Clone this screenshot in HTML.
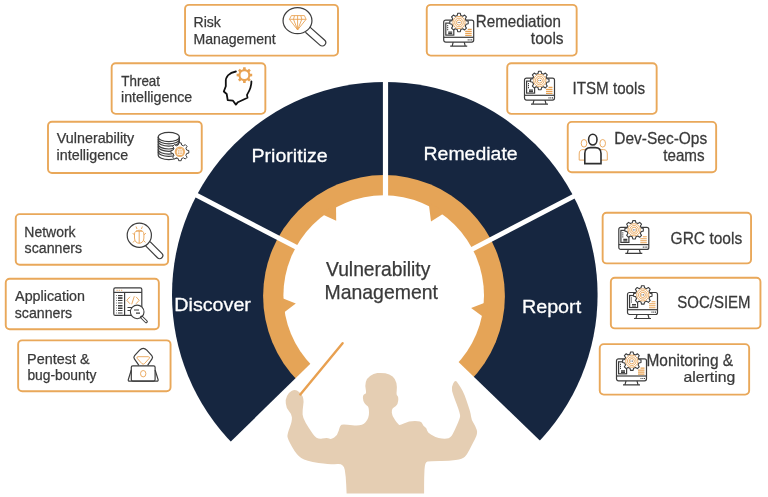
<!DOCTYPE html>
<html>
<head>
<meta charset="utf-8">
<title>Vulnerability Management</title>
<style>
html,body{margin:0;padding:0;background:#fff;}
body{width:768px;height:497px;overflow:hidden;}
svg{display:block;will-change:transform;}
text{font-family:"Liberation Sans",Arial,sans-serif;}
.bx{fill:#fff;stroke:#E9A85A;stroke-width:1.9;}
.lt{font-size:14.1px;fill:#3a3a3a;stroke:#3a3a3a;stroke-width:0.25px;}
.rt{font-size:15.2px;fill:#3a3a3a;stroke:#3a3a3a;stroke-width:0.25px;}
.seg{font-size:19.6px;fill:#fff;stroke:#fff;stroke-width:0.3px;}
.ctr{font-size:19.6px;fill:#3a3a3a;stroke:#3a3a3a;stroke-width:0.25px;}
.dk{stroke:#3d3d3d;fill:none;stroke-width:1.2;}
.og{stroke:#E9A353;fill:none;stroke-width:0.9;}
</style>
</head>
<body>
<svg width="768" height="497" viewBox="0 0 768 497">
<defs>
<g id="mon">
  <rect x="0.5" y="8.5" width="30" height="22" rx="2" class="dk" fill="#fff"/>
  <line x1="0.5" y1="25.7" x2="30.5" y2="25.7" class="dk"/>
  <rect x="2.6" y="11.5" width="8" height="12" class="dk" stroke-width="0.9"/>
  <path d="M4 14h1M4 16h1M4 18h1M5 20.5h4M5 22h4" class="dk" stroke-width="0.8"/>
  <path d="M10 30.5 L9 34.3 M21 30.5 L22 34.3 M7 34.5 H24" class="dk"/>
  <path d="M24.5 28.2h1M26.3 28.2h1M28 28.2h1" class="dk" stroke-width="0.9"/>
  <path d="M24.5 17.8h4M22 19.8h6.5M22 21.8h6.5M22 23.8h6.5" stroke="#E9A353" stroke-width="1.1"/>
  <path d="M14.04 3.82 L14.49 1.69 L17.11 1.69 L17.56 3.82 L19.57 4.65 L21.38 3.46 L23.24 5.32 L22.05 7.13 L22.88 9.14 L25.01 9.59 L25.01 12.21 L22.88 12.66 L22.05 14.67 L23.24 16.48 L21.38 18.34 L19.57 17.15 L17.56 17.98 L17.11 20.11 L14.49 20.11 L14.04 17.98 L12.03 17.15 L10.22 18.34 L8.36 16.48 L9.55 14.67 L8.72 12.66 L6.59 12.21 L6.59 9.59 L8.72 9.14 L9.55 7.13 L8.36 5.32 L10.22 3.46 L12.03 4.65 Z" fill="#fff" stroke="#3d3d3d" stroke-width="1.1" stroke-linejoin="round"/>
  <circle cx="15.8" cy="10.9" r="6.1" class="og" stroke-width="0.9"/>
  <circle cx="15.8" cy="10.9" r="4.3" class="og" stroke-width="1.1"/>
  <circle cx="15.8" cy="10.9" r="2.6" class="og" stroke-width="0.4"/>
  <path d="M14.6 10.9h0.7M16.3 10.9h0.7" class="dk" stroke-width="0.7"/>
</g>
</defs>
<rect width="768" height="497" fill="#fff"/>

<!-- rings -->
<circle cx="384.8" cy="294.7" r="212.8" fill="#162640"/>
<circle cx="384" cy="296" r="120.9" fill="#E5A457"/>
<circle cx="383.7" cy="295.6" r="100.3" fill="#fff"/>
<polygon points="385,291 85,583.8 685,580.8" fill="#fff"/>
<polygon points="336,204.5 336.2,220.8 320.4,213.6" fill="#E5A457"/>
<polygon points="428.6,202.5 431,221.6 445.6,212.2" fill="#E5A457"/>
<polygon points="280,297.3 281.3,314.4 295.8,303.4" fill="#E5A457"/>
<polygon points="488,301.6 471.1,308 485.4,318.6" fill="#E5A457"/>
<!-- dividers -->
<line x1="385.5" y1="200" x2="385.5" y2="70" stroke="#fff" stroke-width="5.2"/>
<line x1="300" y1="249.2" x2="170" y2="181.4" stroke="#fff" stroke-width="4.8"/>
<line x1="470" y1="250.4" x2="600" y2="182.6" stroke="#fff" stroke-width="4.8"/>

<!-- conductor -->
<path fill="#E5CEB3" d="M346.6 493.5 L346.2 484.8 Q345.9 476.1 344.8 469.9 Q343.6 463.6 337.6 464.1 Q331.6 464.6 318.7 463.0 Q305.8 461.3 301.2 458.1 Q296.6 455.0 292.0 446.8 Q287.3 438.6 287.4 436.1 Q287.5 433.5 289.9 427.1 Q292.2 420.8 291.9 417.2 Q291.5 413.7 288.9 410.9 Q286.2 408.2 285.8 403.6 Q285.3 399.1 287.0 395.9 Q288.6 392.6 291.5 391.0 Q294.3 389.4 296.9 390.5 Q299.4 391.6 301.8 395.0 Q304.2 398.4 303.3 404.6 Q302.4 410.8 302.6 414.4 Q302.9 418.0 305.8 423.0 Q308.7 428.0 312.9 433.9 Q317.0 439.8 322.1 438.6 Q327.3 437.3 329.1 438.5 Q330.9 439.6 334.2 437.5 Q337.6 435.3 338.8 430.5 Q340.0 425.6 341.5 424.8 Q343.0 424.0 352.4 425.2 Q361.9 426.5 365.5 422.2 Q369.2 418.0 369.0 412.5 Q368.9 407.0 367.5 406.1 Q366.2 405.3 364.6 403.2 Q363.0 401.2 362.9 397.8 Q362.9 394.4 364.8 394.0 Q366.7 393.6 365.8 389.7 Q364.9 385.8 365.8 382.1 Q366.6 378.4 370.1 376.0 Q373.6 373.6 377.3 373.1 Q381.0 372.6 385.3 373.3 Q389.6 374.0 392.6 376.5 Q395.6 379.0 396.4 383.0 Q397.2 387.0 396.7 390.9 Q396.2 394.8 397.4 395.7 Q398.6 396.6 398.2 400.7 Q397.8 404.8 395.9 406.0 Q394.0 407.2 392.8 408.3 Q391.6 409.4 391.8 412.7 Q392.0 416.0 395.2 420.3 Q398.4 424.6 399.3 424.9 Q400.2 425.2 404.4 423.2 Q408.7 421.2 414.9 421.1 Q421.2 421.1 422.2 423.4 Q423.2 425.7 425.0 427.1 Q426.8 428.5 427.1 430.4 Q427.5 432.2 430.9 434.4 Q434.4 436.7 438.7 437.9 Q443.0 439.0 446.8 438.6 Q450.6 438.2 452.6 434.2 Q454.7 430.2 457.2 424.4 Q459.8 418.7 460.1 416.5 Q460.5 414.4 456.8 404.5 Q453.0 394.6 452.1 390.9 Q451.1 387.2 453.2 383.4 Q455.3 379.6 457.0 381.9 Q458.6 384.2 460.7 387.4 Q462.8 390.6 464.6 395.3 Q466.4 400.0 468.5 406.5 Q470.7 413.0 471.0 416.2 Q471.3 419.4 473.5 422.9 Q475.7 426.3 476.8 430.0 Q477.9 433.6 475.0 439.1 Q472.1 444.6 469.6 449.6 Q467.1 454.6 464.9 456.8 Q462.6 459.0 455.7 460.0 Q448.8 461.0 439.5 460.9 Q430.1 460.9 427.5 461.4 Q424.8 462.0 424.5 469.6 Q424.1 477.3 424.1 485.4 L424.1 493.5 Z"/>
<line x1="342.6" y1="343.2" x2="300.3" y2="394.4" stroke="#E8A050" stroke-width="2.4" stroke-linecap="round"/>

<!-- segment labels -->
<text class="seg" transform="translate(251.5 162) scale(1 0.95)">Prioritize</text>
<text class="seg" transform="translate(423.5 160.2) scale(1 0.98)" style="font-size:19.47px">Remediate</text>
<text class="seg" transform="translate(174.3 311) scale(1 0.95)" style="font-size:19.7px">Discover</text>
<text class="seg" transform="translate(521.9 312.5) scale(1 0.96)" style="font-size:19.75px">Report</text>
<text class="ctr" transform="translate(326 276) scale(1 1.0)" style="font-size:19.3px">Vulnerability</text>
<text class="ctr" transform="translate(324.5 298.8) scale(1 1.0)" style="font-size:19.45px">Management</text>

<!-- boxes -->
<rect class="bx" x="185.05" y="4.85" width="152.95" height="50.75" rx="4"/>
<text class="lt" transform="translate(193.5 26.5) scale(1 1.0)" style="font-size:14.1px">Risk</text>
<text class="lt" transform="translate(193.5 43.6) scale(1 1.0)" style="font-size:14.1px">Management</text>
<rect class="bx" x="111.65" y="63.25" width="153.70" height="50.60" rx="4"/>
<text class="lt" transform="translate(121.3 85.9) scale(1 1.1)" style="font-size:13.4px">Threat</text>
<text class="lt" transform="translate(121 101.9) scale(1 1.0)" style="font-size:14.25px">intelligence</text>
<rect class="bx" x="48.0" y="121.7" width="153.75" height="51.30" rx="4"/>
<text class="lt" transform="translate(56.85 143.25) scale(1 1.0)" style="font-size:14.3px">Vulnerability</text>
<text class="lt" transform="translate(56.6 159.6) scale(1 1.0)" style="font-size:14.3px">intelligence</text>
<rect class="bx" x="15.75" y="214.15" width="152.40" height="50.65" rx="4"/>
<text class="lt" transform="translate(24.3 236.55) scale(1 1.05)" style="font-size:14.0px">Network</text>
<text class="lt" transform="translate(24.6 253.0) scale(1 1.05)" style="font-size:14.2px">scanners</text>
<rect class="bx" x="5.75" y="278.75" width="153.10" height="50.55" rx="4"/>
<text class="lt" transform="translate(15.1 300.5) scale(1 0.97)" style="font-size:14.3px">Application</text>
<text class="lt" transform="translate(14.8 318.0) scale(1 1.03)" style="font-size:14.15px">scanners</text>
<rect class="bx" x="18.15" y="340.35" width="152.40" height="50.85" rx="4"/>
<text class="lt" transform="translate(27.1 363.55) scale(1 1.0)" style="font-size:14.4px">Pentest &amp;</text>
<text class="lt" transform="translate(27.4 379.85) scale(1 1.0)" style="font-size:13.8px">bug-bounty</text>
<rect class="bx" x="426.75" y="4.85" width="149.90" height="50.75" rx="4"/>
<text class="rt" transform="translate(561 27) scale(1 1.12)" text-anchor="end" style="font-size:15.2px">Remediation</text>
<text class="rt" transform="translate(563.6 44.3) scale(1 1.1)" text-anchor="end" style="font-size:15.5px">tools</text>
<rect class="bx" x="507.25" y="63.25" width="149.40" height="50.60" rx="4"/>
<text class="rt" transform="translate(645 93.7) scale(1 1.12)" text-anchor="end" style="font-size:15.2px">ITSM tools</text>
<rect class="bx" x="567.75" y="121.9" width="148.40" height="50.30" rx="4"/>
<text class="rt" transform="translate(707.2 143.8) scale(1 1.12)" text-anchor="end" style="font-size:15.5px">Dev-Sec-Ops</text>
<text class="rt" transform="translate(704.6 160.9) scale(1 1.12)" text-anchor="end" style="font-size:15.2px">teams</text>
<rect class="bx" x="602.65" y="212.75" width="148.40" height="50.65" rx="4"/>
<text class="rt" transform="translate(742.2 243.95) scale(1 1.1)" text-anchor="end" style="font-size:15.55px">GRC tools</text>
<rect class="bx" x="610.85" y="277.75" width="149.60" height="50.65" rx="4"/>
<text class="rt" transform="translate(750.6 308.1) scale(1 1.05)" text-anchor="end" style="font-size:15.0px">SOC/SIEM</text>
<rect class="bx" x="599.75" y="344.15" width="149.40" height="50.45" rx="4"/>
<text class="rt" transform="translate(733.1 365.7) scale(1 1.06)" text-anchor="end" style="font-size:15.45px">Monitoring &amp;</text>
<text class="rt" transform="translate(735.3 382.1) scale(1 0.97)" text-anchor="end" style="font-size:15.8px">alerting</text>

<!-- monitor icons -->
<use href="#mon" x="443.2" y="11.6"/>
<use href="#mon" x="524" y="69.6"/>
<use href="#mon" x="618.3" y="218.9"/>
<use href="#mon" x="627" y="284"/>
<use href="#mon" x="616" y="350.3"/>

<!-- people icon -->
<g>
  <ellipse cx="584" cy="143.3" rx="2.8" ry="3.8" class="og" stroke-width="1.5"/>
  <ellipse cx="602.7" cy="143.3" rx="2.8" ry="3.8" class="og" stroke-width="1.5"/>
  <path d="M585 149.6 H583 Q579.2 149.6 579.2 154 V160.1 H585" class="og" stroke-width="1.5"/>
  <path d="M601 149.6 H603.4 Q607.3 149.6 607.3 154 V160.1 H601" class="og" stroke-width="1.5"/>
  <ellipse cx="592.8" cy="139.6" rx="4.2" ry="5.4" fill="none" stroke="#2e2e2e" stroke-width="1.6"/>
  <path d="M584.8 163.6 V153.4 Q584.8 147.6 590.5 147.6 H595.3 Q601 147.6 601 153.4 V163.6 Z" stroke="#2e2e2e" stroke-width="1.6" fill="#fff"/>
</g>

<!-- icon 1: magnifier + diamond -->
<g>
  <ellipse cx="297.5" cy="20.7" rx="14.45" ry="13.0" class="dk" stroke-width="1.3"/>
  <g transform="translate(297.5 20.7) rotate(41.5)">
    <path d="M13.6 -3.45 H33 A3.45 3.45 0 0 1 33 3.45 H13.6" class="dk" stroke-width="1.35"/>
  </g>
  <path d="M291.4 15.6 H304.4 L306.1 19.3 L297.6 29.9 L289.4 19.3 Z M289.4 19.3 H306.1 M294.5 15.6 L293.5 19.3 L297.6 29.9 L301.8 19.3 L300.8 15.6 M297.6 15.6 V29.9" class="og" stroke-width="0.55"/>
</g>

<!-- icon 2: head + gear -->
<g>
  <path d="M235.9 71.5 C229 72.5 225.3 77 225.8 82 L225.8 86.2 L223.8 91.5 L226.7 94 L227.7 100.2 L233 100.7 L235.9 104.6 L237.9 102.2 L247.5 97.8 L247 94.9 C250 90 251.6 86 251.4 81.4" fill="none" stroke="#111" stroke-width="1.8" stroke-linejoin="round" stroke-linecap="round"/>
  <path d="M243.00 69.27 L243.16 67.30 L245.64 67.30 L245.80 69.27 L247.53 69.98 L249.04 68.71 L250.79 70.46 L249.52 71.97 L250.23 73.70 L252.20 73.86 L252.20 76.34 L250.23 76.50 L249.52 78.23 L250.79 79.74 L249.04 81.49 L247.53 80.22 L245.80 80.93 L245.64 82.90 L243.16 82.90 L243.00 80.93 L241.27 80.22 L239.76 81.49 L238.01 79.74 L239.28 78.23 L238.57 76.50 L236.60 76.34 L236.60 73.86 L238.57 73.70 L239.28 71.97 L238.01 70.46 L239.76 68.71 L241.27 69.98 Z M248.3 75.1 A3.9 3.9 0 1 0 240.5 75.1 A3.9 3.9 0 1 0 248.3 75.1 Z" fill="#E9A353" fill-rule="evenodd"/>
</g>

<!-- icon 3: database + gear -->
<g>
  <path d="M158.2 137 V154.9 A10.6 4.7 0 0 0 179.4 154.9 V137" class="dk" fill="#fff"/>
  <path d="M158.2 139.2 A10.6 4.7 0 0 0 179.4 139.2 M158.2 141.5 A10.6 4.7 0 0 0 179.4 141.5 M158.2 144.3 A10.6 4.7 0 0 0 179.4 144.3 M158.2 146.6 A10.6 4.7 0 0 0 179.4 146.6 M158.2 149.4 A10.6 4.7 0 0 0 179.4 149.4 M158.2 151.7 A10.6 4.7 0 0 0 179.4 151.7" class="dk" stroke-width="1"/>
  <ellipse cx="168.8" cy="137" rx="10.6" ry="4.7" class="dk" fill="#fff"/>
  <path d="M178.21 145.01 L178.63 142.89 L181.17 142.89 L181.59 145.01 L183.51 145.80 L185.30 144.60 L187.10 146.40 L185.90 148.19 L186.69 150.11 L188.81 150.53 L188.81 153.07 L186.69 153.49 L185.90 155.41 L187.10 157.20 L185.30 159.00 L183.51 157.80 L181.59 158.59 L181.17 160.71 L178.63 160.71 L178.21 158.59 L176.29 157.80 L174.50 159.00 L172.70 157.20 L173.90 155.41 L173.11 153.49 L170.99 153.07 L170.99 150.53 L173.11 150.11 L173.90 148.19 L172.70 146.40 L174.50 144.60 L176.29 145.80 Z" fill="#fff" stroke="#3d3d3d" stroke-width="1" stroke-linejoin="round"/>
  <circle cx="179.9" cy="151.8" r="5.2" fill="#EDB06A"/>
  <path d="M177.6 149.8h4.6v4.6h-4.6z M179.9 149.8v4.6 M176.6 152h6.6 M178.6 149.6l-0.8 -1.2 M181.2 149.6l0.8 -1.2" stroke="#fff" stroke-width="0.8" fill="none"/>
</g>

<!-- icon 4: magnifier + bug -->
<g>
  <circle cx="139.3" cy="235.2" r="12.1" class="dk" stroke-width="1.3"/>
  <g transform="translate(139.3 235.2) rotate(45)">
    <path d="M12.1 -3.1 H28.8 A3.1 3.1 0 0 1 28.8 3.1 H12.1" class="dk" stroke-width="1.3"/>
  </g>
  <path d="M134.5 234 C134.5 229 143.9 229 143.9 234 V238 C143.9 245 134.5 245 134.5 238 Z M139.2 231 V243.3 M136 231.2 H142.4 M137 229 L136 226.5 M141.4 229 L142.4 226.5 M134.5 235 L132.6 233 M143.9 235 L145.9 233 M134.7 240.5 L133 242.5 M143.7 240.5 L145.4 242.5" class="og" stroke-width="1"/>
</g>

<!-- icon 5: app window + magnifier -->
<g>
  <rect x="113.8" y="287.8" width="28" height="27.6" rx="1.5" class="dk"/>
  <line x1="113.8" y1="292.4" x2="141.8" y2="292.4" class="dk"/>
  <line x1="124.6" y1="292.4" x2="124.6" y2="315.4" class="dk"/>
  <path d="M116.5 290.3h1.2M118.7 290.3h1.2M121 290.3h1.2" stroke="#E9A353" stroke-width="0.9"/>
  <path d="M116 295.5h0.8M116 298h0.8M116 300.5h0.8M116 303h0.8M116 305.5h0.8M116 308h0.8M116 310.5h0.8M116 313h0.8" stroke="#3d3d3d" stroke-width="0.8"/>
  <path d="M118 295.5h4.5M118 297.3h4.5M118 298.6h4.5M118 300.5h4.5M118 303h4.5M118 305.5h4.5M118 307h4.5M118 308.5h4.5M118 310.5h4.5M118 313h4.5" stroke="#3d3d3d" stroke-width="1"/>
  <path d="M130 296.8 L126.8 300.3 L130 303.8 M136 296.8 L139.2 300.3 L136 303.8 M134.3 296.3 L131.7 304.3" class="og" stroke-width="1.3"/>
  <path d="M127.5 307.5h6M127.5 310.5h6" class="dk" stroke-width="0.9"/>
  <circle cx="137.2" cy="311.9" r="6.8" fill="#fff" stroke="#3d3d3d" stroke-width="1.1"/>
  <path d="M134 310h5M136 313.2h4" class="dk" stroke-width="0.9"/>
  <path d="M141.6 317.2 L146.2 321.6" stroke="#3d3d3d" stroke-width="3.2" stroke-linecap="round"/>
  <path d="M142.2 317.8 L146 321.4" stroke="#fff" stroke-width="1.4" stroke-linecap="round"/>
</g>

<!-- icon 6: hacker + laptop -->
<g>
  <path d="M138.9 365.4 L134.4 358.9 Q133.2 357.2 134.6 355.6 L139.6 350.2 Q143.2 346.4 146.8 350.2 L151.8 355.6 Q153.2 357.2 152 358.9 L147.6 365.4" class="dk" stroke-width="1.5"/>
  <path d="M138 356.7 H148.4 Q150.2 356.9 149.2 358.4 L144.4 363.7 Q143.2 364.7 142 363.7 L137.2 358.4 Q136.2 356.9 138 356.7 Z" class="og" stroke-width="1.4"/>
  <rect x="131.3" y="365.8" width="23.8" height="15.3" rx="1.5" class="dk" stroke-width="1.5"/>
  <ellipse cx="143.2" cy="373.7" rx="2.7" ry="3.2" class="og" stroke-width="1.4"/>
  <path d="M131.3 370 L128.3 379.6 Q128 381.2 129.6 381.2 H156.8 Q158.4 381.2 158.1 379.6 L155.1 370" class="dk" stroke-width="1.5"/>
</g>
</svg>
</body>
</html>
